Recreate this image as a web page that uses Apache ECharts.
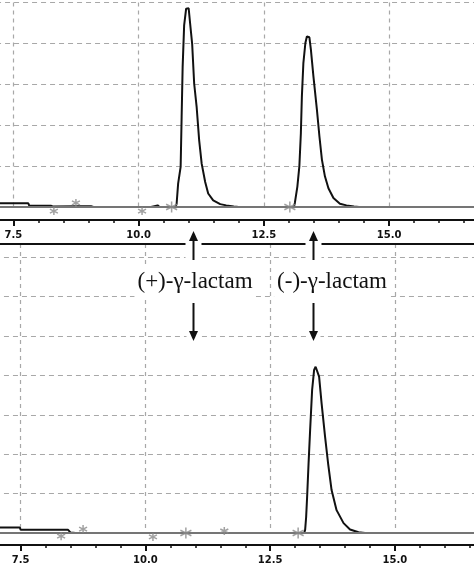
<!DOCTYPE html>
<html>
<head>
<meta charset="utf-8">
<script src="https://cdn.jsdelivr.net/npm/echarts@6/dist/echarts.min.js"></script>
<style>
  html, body { margin: 0; padding: 0; background: #fff; }
  #main { width: 474px; height: 566px; }
</style>
</head>
<body>
<div id="main"></div>
<script>
// upper run (racemate): retention time (min) / detector signal
var topTime = [7.0, 7.8, 7.82, 8.25, 8.3, 8.8, 9.05, 9.1, 10.25, 10.28, 10.38, 10.42, 10.74,
  10.76, 10.79, 10.84, 10.86, 10.88, 10.91, 10.95, 10.98, 11.0, 11.03, 11.07, 11.11, 11.16,
  11.21, 11.26, 11.33, 11.39, 11.49, 11.63, 11.75, 11.9, 12.0,
  13.1, 13.12, 13.17, 13.21, 13.24, 13.26, 13.29, 13.33, 13.36, 13.39, 13.41, 13.44, 13.49,
  13.56, 13.61, 13.66, 13.72, 13.79, 13.89, 14.02, 14.15, 14.3, 14.4, 17.5];
var topSignal = [0.09, 0.09, 0.03, 0.03, 0.01, 0.02, 0.02, 0, 0, 0.04, 0.04, 0, 0,
  0.08, 0.57, 0.98, 2.2, 3.42, 4.44, 4.85, 4.89, 4.86, 4.48, 3.99, 3.02, 2.44,
  1.63, 1.06, 0.61, 0.33, 0.16, 0.07, 0.04, 0.01, 0,
  0, 0.1, 0.5, 1.0, 1.81, 2.7, 3.52, 4.01, 4.17, 4.19, 4.15, 3.85, 3.2,
  2.38, 1.73, 1.16, 0.75, 0.46, 0.22, 0.08, 0.04, 0.01, 0, 0];

// lower run
var bottomTime = [7.0, 7.48, 7.5, 8.45, 8.5, 8.6, 13.18, 13.2, 13.22, 13.24, 13.27, 13.3,
  13.34, 13.38, 13.41, 13.44, 13.48, 13.53, 13.6, 13.66, 13.73, 13.83, 13.97, 14.1, 14.27,
  14.4, 17.5];
var bottomSignal = [0.14, 0.14, 0.08, 0.08, 0.01, 0, 0, 0.08, 0.4, 0.92, 1.8, 2.61,
  3.63, 4.14, 4.22, 4.2, 3.97, 3.29, 2.44, 1.77, 1.09, 0.58, 0.25, 0.09, 0.02,
  0, 0];

// grey integration marks
var topMarkTime = [8.31, 8.75, 10.07, 10.66, 13.02];
var topMarkLevel = [-0.1, 0.1, -0.1, 0, 0];
var bottomMarkTime = [8.31, 8.75, 10.15, 10.81, 11.58, 13.06];
var bottomMarkLevel = [-0.08, 0.1, -0.1, 0, 0.05, 0];

var tickLabels = ['7.5', '10.0', '12.5', '15.0'];
var peakLabels = ['(+)-γ-lactam', '(-)-γ-lactam'];
var arrowTime = [10.95, 13.36];

function pairs(t, v) {
  return t.map(function (x, i) { return [x, v[i]]; });
}

var asterisk = 'path://M5,0L5,10M0.7,2.5L9.3,7.5M0.7,7.5L9.3,2.5';

function timeAxis(grid, offset) {
  return {
    type: 'value', gridIndex: grid, min: 5, max: 17.5, interval: 2.5, offset: offset,
    axisLine: { onZero: false, lineStyle: { color: '#111', width: 2 } },
    axisTick: { length: 6, lineStyle: { color: '#111', width: 2 } },
    minorTick: { show: true, splitNumber: 5, length: 3, lineStyle: { color: '#111', width: 1.5 } },
    axisLabel: {
      margin: 10, color: '#111', fontFamily: 'DejaVu Sans', fontWeight: 'bold', fontSize: 10,
      formatter: function (v) {
        var s = v.toFixed(1);
        return tickLabels.indexOf(s) >= 0 ? s : '';
      }
    },
    splitLine: { show: true, lineStyle: { color: '#a8a8a8', type: [4, 4], width: 1.2 } }
  };
}

function signalAxis(grid, max) {
  return {
    type: 'value', gridIndex: grid, min: 0, max: max, interval: 1,
    axisLine: { show: false }, axisTick: { show: false }, axisLabel: { show: false },
    splitLine: { show: true, lineStyle: { color: '#a8a8a8', type: [5, 4], width: 1.2 } }
  };
}

function trace(idx, t, v) {
  return {
    type: 'line', xAxisIndex: idx, yAxisIndex: idx, data: pairs(t, v),
    showSymbol: false, lineStyle: { color: '#111', width: 2 },
    markLine: {
      silent: true, symbol: 'none', label: { show: false },
      lineStyle: { color: '#757575', width: 2, type: 'solid' },
      data: [{ yAxis: 0 }]
    }
  };
}

function marks(idx, t, v) {
  return {
    type: 'scatter', xAxisIndex: idx, yAxisIndex: idx, data: pairs(t, v),
    symbol: asterisk, clip: false,
    symbolSize: function (d) { return d[1] === 0 ? 11 : 8; },
    itemStyle: { color: 'transparent', borderColor: '#8a8a8a', borderWidth: 1.5 },
    z: 5
  };
}

var chart = echarts.init(document.getElementById('main'));

var topBorder = timeAxis(1, 0);
topBorder.position = 'top';
topBorder.axisTick = { show: false };
topBorder.minorTick = { show: false };
topBorder.axisLabel = { show: false };
topBorder.splitLine = { show: false };

chart.setOption({
  animation: false,
  backgroundColor: '#fff',
  grid: [
    { left: -111.95, right: -40.3, top: 2.5, height: 204.5, outerBoundsMode: 'none', containLabel: false },
    { left: -104.05, right: -45.7, top: 244, height: 289, outerBoundsMode: 'none', containLabel: false }
  ],
  xAxis: [timeAxis(0, 13), timeAxis(1, 12), topBorder],
  yAxis: [signalAxis(0, 5), signalAxis(1, 7.335)],
  series: [
    trace(0, topTime, topSignal),
    trace(1, bottomTime, bottomSignal),
    marks(0, topMarkTime, topMarkLevel),
    marks(1, bottomMarkTime, bottomMarkLevel)
  ]
});

// arrows and peak names between the two runs
var labelShift = [0, 17];
var elements = [];
arrowTime.forEach(function (t, i) {
  var x = Math.round(chart.convertToPixel({ xAxisIndex: 1 }, t)) + 0.5;
  elements.push(
    { type: 'rect', shape: { x: x - 8, y: 238, width: 16, height: 24 }, style: { fill: '#fff' }, z: 100 },
    { type: 'line', shape: { x1: x, y1: 260, x2: x, y2: 240 }, style: { stroke: '#111', lineWidth: 2 }, z: 101 },
    { type: 'polygon', shape: { points: [[x, 231], [x - 4.5, 241], [x + 4.5, 241]] }, style: { fill: '#111' }, z: 101 },
    { type: 'rect', shape: { x: x - 7, y: 300, width: 14, height: 42 }, style: { fill: '#fff' }, z: 100 },
    { type: 'line', shape: { x1: x, y1: 303, x2: x, y2: 332 }, style: { stroke: '#111', lineWidth: 2 }, z: 101 },
    { type: 'polygon', shape: { points: [[x, 341], [x - 4.5, 331], [x + 4.5, 331]] }, style: { fill: '#111' }, z: 101 },
    {
      type: 'text', z: 102,
      style: {
        text: peakLabels[i], x: x + 1.5 + labelShift[i], y: 282,
        align: 'center', verticalAlign: 'middle',
        font: '23px "Liberation Serif", "DejaVu Serif", serif', fill: '#111',
        backgroundColor: '#fff', padding: [2, 3, 6, 3]
      }
    }
  );
});
chart.setOption({ graphic: { elements: elements } });
</script>
</body>
</html>
